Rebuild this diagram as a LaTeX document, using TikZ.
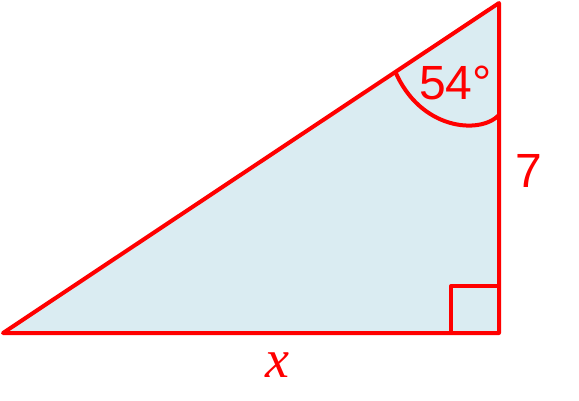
\documentclass[tikz,border=0pt]{standalone}
\usepackage{fontspec}
\newfontfamily\sansfont{Liberation Sans}
\newfontfamily\seriffont{Liberation Serif}
\definecolor{triblue}{RGB}{218,236,242}

\begin{document}
\begin{tikzpicture}[x=1pt,y=-1pt,
    side/.style={red, line width=4pt, line join=round},
    lbl/.style={red, anchor=base, inner sep=0pt, font=\sansfont\fontsize{48}{48}\selectfont}]
  \useasboundingbox (0,0) rectangle (579,401);
  \coordinate (A) at (3,333);
  \coordinate (B) at (499,333);
  \coordinate (C) at (499,3);
  \draw [side, fill=triblue] (A) -- (B) -- (C) -- cycle;
  \draw [side] (451,333) -- (451,286) -- (499,286);
  \draw [side] (395,71) .. controls (420,130) and (480,135) .. (499,115);

  \node [lbl] (angle) at (455.5,100) {54°};
  \node [lbl] (height) at (529,188) {7};
  \node [lbl, font=\seriffont\itshape\fontsize{54}{54}\selectfont] (base) at (277.5,377) {x};
\end{tikzpicture}
\end{document}
